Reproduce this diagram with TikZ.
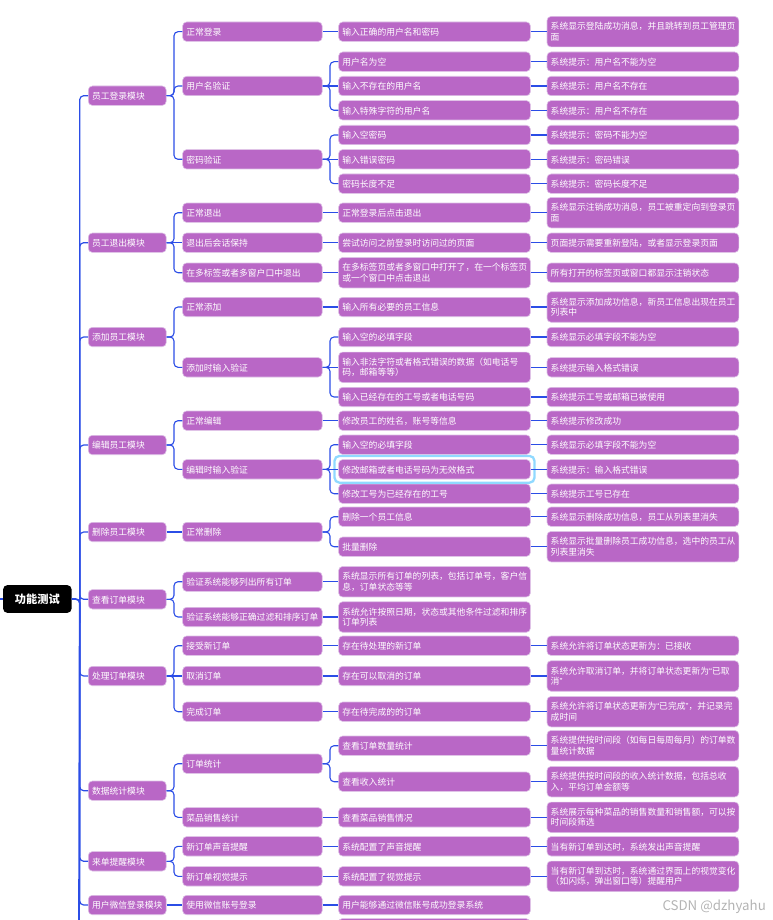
\documentclass[tikz,border=0pt]{standalone}
\usepackage{fontspec}
\setmainfont{Noto Sans CJK SC}
\newfontfamily\quotefont{Liberation Sans}
\newcommand{\myopenq}{{\quotefont “}}
\newcommand{\mycloseq}{{\quotefont ”}}
\usetikzlibrary{fit}
\definecolor{boxfill}{HTML}{B967C6}
\definecolor{boxedge}{HTML}{DDBFE6}
\definecolor{wire}{HTML}{2B4DE6}
\definecolor{halo}{HTML}{90D9FF}
\definecolor{mark}{HTML}{B4B4B4}
\tikzset{
  card/.style={anchor=west,fill=boxfill,draw=boxedge,line width=0.6pt,rounded corners=4pt,text=white,align=left,
    font=\fontsize{8.8}{12}\selectfont,inner xsep=3.7pt,inner ysep=0pt,minimum height=19.4pt,
    execute at begin node={\vspace*{-1.4pt}}},
  lone/.style={card,text width=70.5pt},
  ltwo/.style={card,text width=132.2pt},
  lthree/.style={card,text width=184.4pt},
  lfour/.style={card,text width=184.4pt},
  tall/.style={minimum height=30.5pt},
  rootbox/.style={fill=black,rounded corners=4pt,text=white,font=\fontsize{11.2}{13}\selectfont\bfseries,
    minimum width=68.3pt,minimum height=27.6pt,inner sep=0pt,anchor=west},
  wirefan/.style={draw=wire,line width=1.1pt,rounded corners=4pt},
  wirerun/.style={draw=wire,line width=1.1pt},
  busline/.style={draw=wire,line width=1.7pt,rounded corners=4pt},
  halobox/.style={draw=halo,line width=2.3pt,rounded corners=5pt,inner xsep=3.8pt,inner ysep=3.4pt},
  stamp/.style={text=mark,font=\fontsize{13.3}{15}\selectfont,inner sep=0pt,anchor=east}
}
\begin{document}
\begin{tikzpicture}[x=1pt,y=-1pt]
\useasboundingbox (0,0) rectangle (772,920);
\clip (0,0) rectangle (772,920);

\node[rootbox] (root) at (3,599) {功能测试};
\coordinate (rootin) at (0,599);
\coordinate (busend) at (79,925);

% level 1
\node[lone] (a1) at (88,95.7) {员工登录模块};
\node[lone] (a2) at (88,242.7) {员工退出模块};
\node[lone] (a3) at (88,337) {添加员工模块};
\node[lone] (a4) at (88,445) {编辑员工模块};
\node[lone] (a5) at (88,532) {删除员工模块};
\node[lone] (a6) at (88,599.3) {查看订单模块};
\node[lone] (a7) at (88,676) {处理订单模块};
\node[lone] (a8) at (88,790.7) {数据统计模块};
\node[lone] (a9) at (88,861.3) {来单提醒模块};
\node[lone] (a10) at (88,905) {用户微信登录模块};

% level 2
\node[ltwo] (b1) at (182.3,31.7) {正常登录};
\node[ltwo] (b2) at (182.3,86) {用户名验证};
\node[ltwo] (b3) at (182.3,159.3) {密码验证};
\node[ltwo] (b4) at (182.3,212.7) {正常退出};
\node[ltwo] (b5) at (182.3,242.7) {退出后会话保持};
\node[ltwo] (b6) at (182.3,272.7) {在多标签或者多窗户口中退出};
\node[ltwo] (b7) at (182.3,307) {正常添加};
\node[ltwo] (b8) at (182.3,367.3) {添加时输入验证};
\node[ltwo] (b9) at (182.3,420.7) {正常编辑};
\node[ltwo] (b10) at (182.3,469.3) {编辑时输入验证};
\node[ltwo] (b11) at (182.3,532) {正常删除};
\node[ltwo] (b12) at (182.3,581.7) {验证系统能够列出所有订单};
\node[ltwo] (b13) at (182.3,617) {验证系统能够正确过滤和排序订单};
\node[ltwo] (b14) at (182.3,645.7) {接受新订单};
\node[ltwo] (b15) at (182.3,676) {取消订单};
\node[ltwo] (b16) at (182.3,711.7) {完成订单};
\node[ltwo] (b17) at (182.3,763.7) {订单统计};
\node[ltwo] (b18) at (182.3,817.3) {菜品销售统计};
\node[ltwo] (b19) at (182.3,846.3) {新订单声音提醒};
\node[ltwo] (b20) at (182.3,876.3) {新订单视觉提示};
\node[ltwo] (b21) at (182.3,905) {使用微信账号登录};

% level 3
\node[lthree] (c1) at (338.3,31.7) {输入正确的用户名和密码};
\node[lthree] (c2) at (338.3,61.7) {用户名为空};
\node[lthree] (c3) at (338.3,86) {输入不存在的用户名};
\node[lthree] (c4) at (338.3,110.3) {输入特殊字符的用户名};
\node[lthree] (c5) at (338.3,135) {输入空密码};
\node[lthree] (c6) at (338.3,159.3) {输入错误密码};
\node[lthree] (c7) at (338.3,183.7) {密码长度不足};
\node[lthree] (c8) at (338.3,212.7) {正常登录后点击退出};
\node[lthree] (c9) at (338.3,242.7) {尝试访问之前登录时访问过的页面};
\node[lthree,tall] (c10) at (338.3,272.7) {在多标签页或者多窗口中打开了，在一个标签页\\或一个窗口中点击退出};
\node[lthree] (c11) at (338.3,307) {输入所有必要的员工信息};
\node[lthree] (c12) at (338.3,337) {输入空的必填字段};
\node[lthree,tall] (c13) at (338.3,367.3) {输入非法字符或者格式错误的数据（如电话号\\码，邮箱等等）};
\node[lthree] (c14) at (338.3,397) {输入已经存在的工号或者电话号码};
\node[lthree] (c15) at (338.3,420.7) {修改员工的姓名，账号等信息};
\node[lthree] (c16) at (338.3,444.7) {输入空的必填字段};
\node[lthree] (c17) at (338.3,469.3) {修改邮箱或者电话号码为无效格式};
\node[lthree] (c18) at (338.3,493.7) {修改工号为已经存在的工号};
\node[lthree] (c19) at (338.3,516.7) {删除一个员工信息};
\node[lthree] (c20) at (338.3,546.7) {批量删除};
\node[lthree,tall] (c21) at (338.3,581.7) {系统显示所有订单的列表，包括订单号，客户信\\息，订单状态等等};
\node[lthree,tall] (c22) at (338.3,617) {系统允许按照日期，状态或其他条件过滤和排序\\订单列表};
\node[lthree] (c23) at (338.3,645.7) {存在待处理的新订单};
\node[lthree] (c24) at (338.3,676) {存在可以取消的订单};
\node[lthree] (c25) at (338.3,711.7) {存在待完成的的订单};
\node[lthree] (c26) at (338.3,745.7) {查看订单数量统计};
\node[lthree] (c27) at (338.3,781.7) {查看收入统计};
\node[lthree] (c28) at (338.3,817.3) {查看菜品销售情况};
\node[lthree] (c29) at (338.3,846.3) {系统配置了声音提醒};
\node[lthree] (c30) at (338.3,876.3) {系统配置了视觉提示};
\node[lthree] (c31) at (338.3,905) {用户能够通过微信账号成功登录系统};
\fill[boxfill,draw=boxedge,line width=0.6pt,rounded corners=4pt] (338.3,918.6) rectangle (530,940);
\node[halobox,fit=(c17)] (focus) {};

% level 4
\node[lfour,tall] (d1) at (546.7,31.7) {系统显示登陆成功消息，并且跳转到员工管理页\\面};
\node[lfour] (d2) at (546.7,61.7) {系统提示：用户名不能为空};
\node[lfour] (d3) at (546.7,86) {系统提示：用户名不存在};
\node[lfour] (d4) at (546.7,110.3) {系统提示：用户名不存在};
\node[lfour] (d5) at (546.7,135) {系统提示：密码不能为空};
\node[lfour] (d6) at (546.7,159.3) {系统提示：密码错误};
\node[lfour] (d7) at (546.7,183.7) {系统提示：密码长度不足};
\node[lfour,tall] (d8) at (546.7,212.7) {系统显示注销成功消息，员工被重定向到登录页\\面};
\node[lfour] (d9) at (546.7,242.7) {页面提示需要重新登陆，或者显示登录页面};
\node[lfour] (d10) at (546.7,272.7) {所有打开的标签页或窗口都显示注销状态};
\node[lfour,tall] (d11) at (546.7,307) {系统显示添加成功信息，新员工信息出现在员工\\列表中};
\node[lfour] (d12) at (546.7,337) {系统显示必填字段不能为空};
\node[lfour] (d13) at (546.7,367.3) {系统提示输入格式错误};
\node[lfour] (d14) at (546.7,397) {系统提示工号或邮箱已被使用};
\node[lfour] (d15) at (546.7,420.7) {系统提示修改成功};
\node[lfour] (d16) at (546.7,444.7) {系统显示必填字段不能为空};
\node[lfour] (d17) at (546.7,469.3) {系统提示：输入格式错误};
\node[lfour] (d18) at (546.7,493.7) {系统提示工号已存在};
\node[lfour] (d19) at (546.7,516.7) {系统显示删除成功信息，员工从列表里消失};
\node[lfour,tall] (d20) at (546.7,546.7) {系统显示批量删除员工成功信息，选中的员工从\\列表里消失};
\node[lfour] (d23) at (546.7,645.7) {系统允许将订单状态更新为：已接收};
\node[lfour,tall] (d24) at (546.7,676) {系统允许取消订单，并将订单状态更新为\myopenq 已取\\消\mycloseq};
\node[lfour,tall] (d25) at (546.7,711.7) {系统允许将订单状态更新为\myopenq 已完成\mycloseq ，并记录完\\成时间};
\node[lfour,tall] (d26) at (546.7,745.7) {系统提供按时间段（如每日每周每月）的订单数\\量统计数据};
\node[lfour,tall] (d27) at (546.7,781.7) {系统提供按时间段的收入统计数据，包括总收\\入，平均订单金额等};
\node[lfour,tall] (d28) at (546.7,817.3) {系统展示每种菜品的销售数量和销售额，可以按\\时间段筛选};
\node[lfour] (d29) at (546.7,846.3) {当有新订单到达时，系统发出声音提醒};
\node[lfour,tall] (d30) at (546.7,876.3) {当有新订单到达时，系统通过界面上的视觉变化\\（如闪烁，弹出窗口等）提醒用户};

\node[stamp] (credit) at (766,906.5) {CSDN @dzhyahu};

% connectors
\draw[wirerun] (rootin) -- (root.west);
\draw[busline] (root.east) -- ++(8,0) -- (busend);
\foreach \t in {a1,a2,a3,a4,a5,a6,a7,a8,a9,a10}
  \draw[busline,line width=1.2pt] (root.east) ++(8,0) |- (\t.west);
\foreach \p/\c in {a1/b1,a1/b2,a1/b3,a2/b4,a2/b6,a3/b7,a3/b8,a4/b9,a4/b10,a6/b12,a6/b13,a7/b14,a7/b16,a8/b17,a8/b18,a9/b19,a9/b20,
  b2/c2,b2/c4,b3/c5,b3/c7,b8/c12,b8/c14,b10/c16,b10/c18,b11/c19,b11/c20,b17/c26,b17/c27}
  \draw[wirefan] (\p.east) -- ++(7.5,0) |- (\c.west);
\foreach \p/\c in {a2/b5,a5/b11,a7/b15,a10/b21,
  b1/c1,b2/c3,b3/c6,b4/c8,b5/c9,b6/c10,b7/c11,b8/c13,b9/c15,b10/c17,b12/c21,b13/c22,b14/c23,b15/c24,b16/c25,b18/c28,b19/c29,b20/c30,b21/c31,
  c1/d1,c2/d2,c3/d3,c4/d4,c5/d5,c6/d6,c7/d7,c8/d8,c9/d9,c10/d10,c11/d11,c12/d12,c13/d13,c14/d14,c15/d15,c16/d16,c17/d17,c18/d18,c19/d19,c20/d20,
  c23/d23,c24/d24,c25/d25,c26/d26,c27/d27,c28/d28,c29/d29,c30/d30}
  \draw[wirerun] (\p.east) -- (\c.west);
\end{tikzpicture}
\end{document}
